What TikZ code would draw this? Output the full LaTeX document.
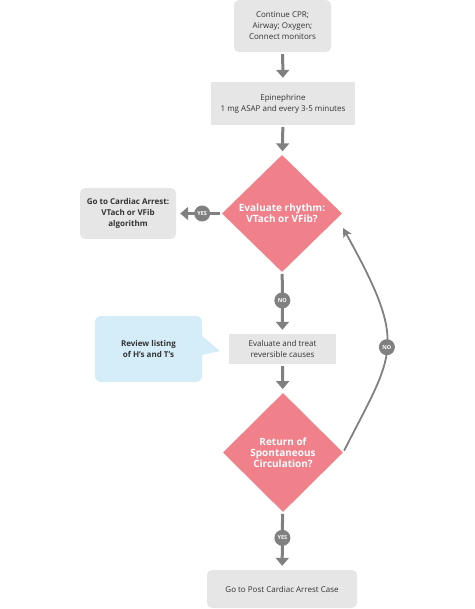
\documentclass[tikz,border=0pt]{standalone}
\usepackage{fontspec}
\setmainfont{Open Sans}
\usetikzlibrary{arrows.meta,shapes.geometric}
\definecolor{boxgray}{HTML}{E6E6E6}
\definecolor{arrgray}{HTML}{808080}
\definecolor{dpink}{HTML}{F0808A}
\definecolor{cblue}{HTML}{D5EDF8}
\definecolor{txt}{HTML}{333333}
\tikzset{
  gbox/.style={fill=boxgray, draw=none, inner sep=0pt, align=center, text=txt,
    font=\fontsize{8}{11}\selectfont},
  rbox/.style={gbox, rounded corners=5pt},
  dia/.style={diamond, fill=dpink, draw=none, inner sep=0pt, align=center, text=white,
    font=\bfseries\fontsize{10}{10.8}\selectfont},
  flow/.style={draw=arrgray, line width=3pt, -{Triangle[width=13pt,length=8pt]},
    shorten >=4pt, shorten <=2pt},
  lab/.style={circle, fill=arrgray, draw=none, inner sep=0pt, minimum size=16pt,
    text=white, font=\bfseries\fontsize{5.5}{5.5}\selectfont},
}
\begin{document}
\begin{tikzpicture}[x=1pt,y=-1pt]
\useasboundingbox (0,0) rectangle (474,609);
% nodes
\node[rbox, minimum width=97pt, minimum height=52pt] (top) at (282.5,26)
  {Continue CPR;\\Airway; Oxygen;\\Connect monitors};
\node[gbox, minimum width=144pt, minimum height=43pt] (epi) at (283,103.5)
  {Epinephrine\\1 mg ASAP and every 3-5 minutes};
\node[dia, minimum width=120pt, minimum height=117pt] (d1) at (282,213.5)
  {Evaluate rhythm:\\VTach or VFib?};
\node[rbox, minimum width=96pt, minimum height=51pt, font=\bfseries\fontsize{8}{11}\selectfont] (left) at (128,213.5)
  {Go to Cardiac Arrest:\\VTach or VFib\\algorithm};
\node[gbox, minimum width=107pt, minimum height=30pt] (eval) at (282.5,349)
  {Evaluate and treat\\reversible causes};
\node[dia, minimum width=120pt, minimum height=119pt] (d2) at (283,452.5)
  {Return of\\Spontaneous\\Circulation?};
\node[rbox, minimum width=150pt, minimum height=38pt] (final) at (282,589)
  {Go to Post Cardiac Arrest Case};
% blue callout
\node[fill=cblue, rounded corners=6pt, inner sep=0pt, minimum width=107pt, minimum height=66pt,
  align=center, text=txt, font=\bfseries\fontsize{8}{11}\selectfont] (note) at (148.5,349)
  {Review listing\\of H's and T's};
\coordinate (ptip) at (220,351);
\fill[cblue] ([yshift=-6pt]note.east) -- (ptip) -- ([yshift=13pt]note.east) -- cycle;
% connectors
\draw[flow] (top) -- (epi);
\draw[flow] (epi) -- (d1);
\draw[flow] (d1) -- node[lab, pos=0.43] {YES} (left);
\draw[flow] (d1) -- node[lab, pos=0.46] {NO} (eval);
\draw[flow] (eval) -- (d2);
\draw[flow] (d2) -- node[lab, pos=0.45] {YES} (final);
\coordinate (ret) at (343,228);
\draw[draw=arrgray, line width=1.8pt, -{Stealth[width=9pt,length=9pt,inset=2pt]}, shorten <=2pt]
  (d2.east) .. controls (394,352) and (409,347) .. (ret)
  node[lab, pos=0.5] {NO};
\end{tikzpicture}
\end{document}
